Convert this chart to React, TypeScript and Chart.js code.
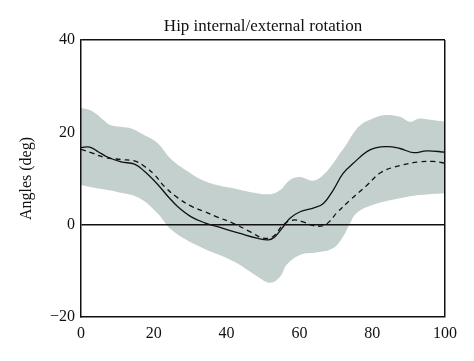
import React, { useEffect, useRef } from "react";
import { Chart, registerables } from "chart.js";

Chart.register(...registerables);

const titleText = "Hip internal/external rotation";
const yAxisTitle = "Angles (deg)";

const solidX = [0, 2.4, 4.7, 7.4, 11, 14.7, 17.5, 21.2, 23.9, 26.6, 30.3, 34, 38.2, 43.7, 48.3, 51.5, 53.3, 55.6, 57.4, 60.2, 63.8, 66.6, 69.3, 72, 74.8, 79.4, 84, 87.6, 91.3, 95, 100];
const solidY = [16.7, 16.8, 15.8, 14.6, 13.6, 13.1, 11.5, 8.6, 6.1, 3.9, 1.7, 0.4, -0.6, -1.9, -2.9, -3.3, -2.6, -0.4, 1.4, 2.8, 3.6, 4.6, 7.5, 11.1, 13.3, 16.2, 16.9, 16.5, 15.6, 16, 15.7];

const dashedX = [0, 2.7, 6.5, 11, 14.7, 17.5, 20.2, 23, 26.6, 30.3, 34, 37.3, 41.8, 46.4, 50, 52.7, 55.6, 58.3, 61, 63.8, 66.6, 68.4, 70.2, 73.9, 78.5, 82.4, 87.6, 93, 96.7, 100];
const dashedY = [16.3, 15.6, 14.6, 14.1, 13.8, 12.6, 10.8, 8.2, 5.8, 4, 2.8, 1.7, 0.3, -1.5, -2.9, -2.6, 0, 1, 0.6, -0.2, -0.2, 0.8, 2.5, 5.3, 8.5, 11.3, 12.8, 13.6, 13.7, 13.3];

const upperX = [0, 3, 6, 8, 11, 14, 17, 21, 25, 30, 33, 37.3, 41.8, 46.4, 51.9, 54.7, 57.4, 60.2, 63.8, 66.6, 69.3, 71.2, 73, 75, 77, 79.4, 83, 87.6, 90.4, 93, 96, 100];
const upperY = [25.3, 24.6, 22.8, 21.6, 21.2, 20.8, 19.6, 17.7, 14, 11.2, 9.8, 8.6, 7.9, 7.1, 6.6, 7.5, 9.7, 10.3, 9.5, 10.8, 13.3, 15.5, 17.5, 20, 21.7, 22.7, 23.7, 23.4, 22.3, 23, 22.7, 22.3];

const lowerX = [0, 4.4, 10, 16, 21, 25, 32.7, 42, 49, 52, 54.7, 56.5, 60, 64.8, 69.2, 72, 73.9, 75.7, 80.3, 87.6, 93, 100];
const lowerY = [8.6, 7.9, 7.1, 5.8, 2.5, -1.2, -4.8, -8, -11.5, -12.6, -11.3, -8.7, -6.6, -6, -5.1, -2.6, 0.3, 2.5, 4.3, 5.7, 6.4, 6.8];

const xTicks = [0, 20, 40, 60, 80, 100];
const yTicks = [-20, 0, 20, 40];

const pts = (xs: number[], ys: number[]) => xs.map((x, i) => ({ x, y: ys[i] }));

const FONT = "'Liberation Serif', 'Times New Roman', serif";
const BAND = "rgb(196, 208, 205)";

export default function App() {
  const ref = useRef<HTMLCanvasElement>(null);
  useEffect(() => {
    if (!ref.current) return;
    const chart = new Chart(ref.current, {
      type: "line",
      data: {
        datasets: [
          {
            data: pts(solidX, solidY),
            borderColor: "#111",
            borderWidth: 1.3,
            pointRadius: 0,
            tension: 0.4,
            fill: false,
          },
          {
            data: pts(dashedX, dashedY),
            borderColor: "#111",
            borderWidth: 1.3,
            borderDash: [5, 4],
            pointRadius: 0,
            tension: 0.4,
            fill: false,
          },
          {
            data: pts(lowerX, lowerY),
            borderWidth: 0,
            borderColor: BAND,
            pointRadius: 0,
            tension: 0.4,
            fill: false,
          },
          {
            data: pts(upperX, upperY),
            borderWidth: 0,
            borderColor: BAND,
            backgroundColor: BAND,
            pointRadius: 0,
            tension: 0.4,
            fill: "-1",
          },
        ],
      },
      options: {
        animation: false,
        responsive: false,
        events: [],
        layout: { padding: { top: 0, left: 0, right: 29, bottom: 0 } },
        plugins: {
          legend: { display: false },
          tooltip: { enabled: false },
          title: {
            display: true,
            text: titleText,
            fullSize: false,
            color: "#111",
            font: { family: FONT, size: 17, weight: "normal" },
            padding: { top: 16, bottom: 3.6 },
          },
        },
        scales: {
          x: {
            type: "linear",
            min: 0,
            max: 100,
            afterBuildTicks: (s: any) => {
              s.ticks = xTicks.map((v) => ({ value: v }));
            },
            afterFit: (s: any) => {
              s.height = 44;
            },
            ticks: {
              color: "#111",
              padding: 7,
              maxRotation: 0,
              font: { family: FONT, size: 16 },
            },
            grid: {
              z: 1,
              drawTicks: false,
              lineWidth: 1.5,
              color: (ctx: any) => (ctx.tick && ctx.tick.value === 100 ? "#111" : "rgba(0,0,0,0)"),
            },
            border: { display: true, color: "#111", width: 1.5, z: 1 },
          },
          y: {
            type: "linear",
            min: -20,
            max: 40,
            afterBuildTicks: (s: any) => {
              s.ticks = yTicks.map((v) => ({ value: v }));
            },
            afterFit: (s: any) => {
              s.width = 81;
            },
            ticks: {
              color: "#111",
              padding: 6,
              font: { family: FONT, size: 16 },
              callback: (v: any) => (Number(v) < 0 ? "\u2212" + Math.abs(Number(v)) : String(v)),
            },
            title: {
              display: true,
              text: yAxisTitle,
              color: "#111",
              font: { family: FONT, size: 16 },
              padding: { top: 17, bottom: 0 },
            },
            grid: {
              z: 1,
              drawTicks: false,
              lineWidth: 1.5,
              color: (ctx: any) =>
                ctx.tick && (ctx.tick.value === 0 || ctx.tick.value === 40) ? "#111" : "rgba(0,0,0,0)",
            },
            border: { display: true, color: "#111", width: 1.5, z: 1 },
          },
        },
      },
    });
    return () => chart.destroy();
  }, []);
  return (
    <div style={{ position: "fixed", left: 0, top: 0, width: 474, height: 361, background: "#fff" }}>
      <canvas ref={ref} width={474} height={361} style={{ display: "block" }} />
    </div>
  );
}
